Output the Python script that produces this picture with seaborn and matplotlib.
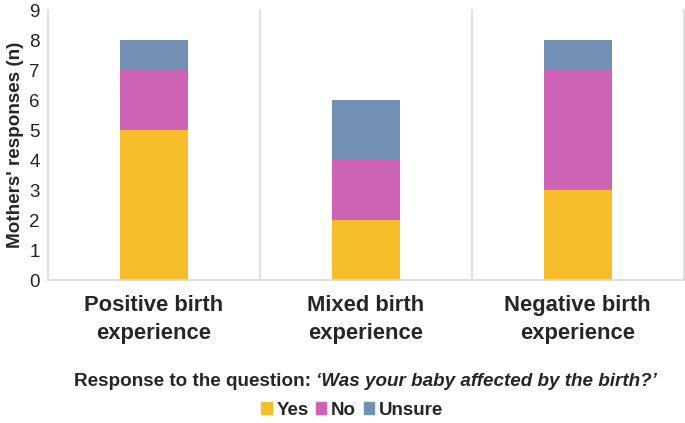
import numpy as np
import pandas as pd
import matplotlib
matplotlib.use("Agg")
import matplotlib.pyplot as plt
import matplotlib.patches as mpatches
import seaborn as sns

# Data
categories = ["Positive birth\nexperience", "Mixed birth\nexperience", "Negative birth\nexperience"]
responses = ["Yes", "No", "Unsure"]
yes = [5, 2, 3]
no = [2, 2, 4]
unsure = [1, 2, 1]
colors = {"Yes": "#F6BE2A", "No": "#CE63B6", "Unsure": "#7190B3"}

sns.set_style("white")
plt.rcParams["font.family"] = ["Liberation Sans", "DejaVu Sans"]

fig = plt.figure(figsize=(6.85, 4.23), dpi=100)
ax = fig.add_axes([0.070, 0.338, 0.928, 0.638])

df = pd.DataFrame({"category": categories, "Yes": yes, "No": no, "Unsure": unsure})
bottom = np.zeros(len(categories))
for r in responses:
    sns.barplot(data=df, x="category", y=r, color=colors[r], width=0.32,
                bottom=bottom, ax=ax, saturation=1, edgecolor="none")
    bottom = bottom + df[r].values

ax.set_xlim(-0.5, 2.5)
ax.set_ylim(0, 9)
ax.set_yticks(range(10))
for s in ["top", "right", "left"]:
    ax.spines[s].set_visible(False)
ax.spines["bottom"].set_color("#D9D9D9")
ax.spines["bottom"].set_linewidth(1.2)
for xv in [-0.5, 0.5, 1.5, 2.5]:
    ax.axvline(xv, color="#D9D9D9", lw=1.2, clip_on=False)

ax.tick_params(axis="both", length=0)
ax.tick_params(axis="y", labelsize=13.5, colors="#222222", pad=6)
ax.tick_params(axis="x", labelsize=15.8, pad=11)
for lbl in ax.get_xticklabels():
    lbl.set_fontweight("bold")
    lbl.set_linespacing(1.4)
ax.set_xlabel("")
ax.set_ylabel("Mothers' responses (n)", fontsize=13.6, fontweight="bold", labelpad=4)

# Title below axis
fig.text(0.461, 1 - 381 / 423, "Response to the question: ", ha="right", va="center",
         fontsize=13.6, fontweight="bold")
fig.text(0.461, 1 - 381 / 423, "\u2018Was your baby affected by the birth?\u2019", ha="left",
         va="center", fontsize=13.6, fontweight="bold", style="italic")

handles = [mpatches.Patch(color=colors[r], label=r) for r in responses]
fig.legend(handles=handles, loc="center", bbox_to_anchor=(352 / 685, 1 - 410 / 423), ncol=3,
           frameon=False, handlelength=0.55, handleheight=0.55,
           handletextpad=0.25, columnspacing=0.4, prop={"weight": "bold", "size": 13.5})

fig.savefig("out.png", dpi=100)
